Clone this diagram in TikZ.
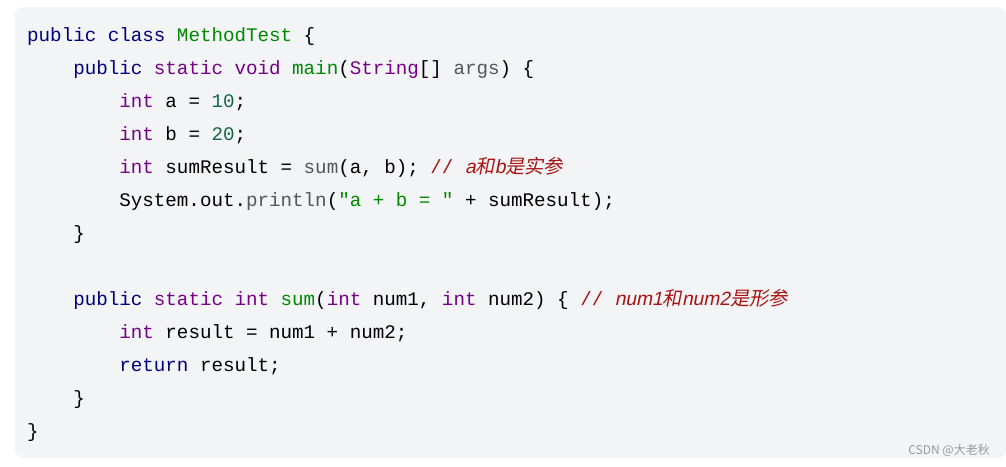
\documentclass[tikz,border=0pt]{standalone}
\usepackage{fontspec}
\setmonofont{Liberation Mono}
\newfontfamily\cjk[FakeSlant=0.2]{Noto Sans CJK SC}
\newfontfamily\cjkup{Noto Sans CJK SC}
\newfontfamily\cmtfont[FakeSlant=0.2]{Liberation Sans}
\definecolor{bg}{HTML}{F3F4F6}
\definecolor{kw}{HTML}{000080}
\definecolor{ty}{HTML}{770088}
\definecolor{fn}{HTML}{008800}
\definecolor{nu}{HTML}{116644}
\definecolor{st}{HTML}{008800}
\definecolor{cm}{HTML}{AA1111}
\definecolor{gy}{HTML}{555555}
\newcommand{\K}[1]{\textcolor{kw}{#1}}
\newcommand{\T}[1]{\textcolor{ty}{#1}}
\newcommand{\F}[1]{\textcolor{fn}{#1}}
\newcommand{\N}[1]{\textcolor{nu}{#1}}
\newcommand{\G}[1]{\textcolor{gy}{#1}}
\newcommand{\C}[1]{\textcolor{cm}{#1}}
\begin{document}
\begin{tikzpicture}[x=1pt,y=1pt,
  code/.style={anchor=base west,inner sep=0pt,font=\ttfamily\fontsize{19.2}{22}\selectfont,text=black}]
\useasboundingbox (0,0) rectangle (1006,-466);
\fill[bg,rounded corners=8pt] (15,-7) rectangle (1006,-458);
\node[code] (l1) at (27,-41) {\K{public} \K{class} \F{MethodTest} \{};
\node[code] (l2) at (27,-74) {\ \ \ \ \K{public} \T{static} \T{void} \F{main}(\T{String}[] \G{args}) \{};
\node[code] (l3) at (27,-107) {\ \ \ \ \ \ \ \ \T{int} a = \N{10};};
\node[code] (l4) at (27,-140) {\ \ \ \ \ \ \ \ \T{int} b = \N{20};};
\node[code] (l5) at (27,-173) {\ \ \ \ \ \ \ \ \T{int} sumResult = \G{sum}(a, b); \C{//\ {\cmtfont a}{\cjk 和}{\cmtfont b}{\cjk 是实参}}};
\node[code] (l6) at (27,-206) {\ \ \ \ \ \ \ \ System.out.\G{println}(\textcolor{st}{"a + b = "} + sumResult);};
\node[code] (l7) at (27,-239) {\ \ \ \ \}};
\node[code] (l9) at (27,-305) {\ \ \ \ \K{public} \T{static} \T{int} \F{sum}(\T{int} num1, \T{int} num2) \{ \C{//\ {\cmtfont num1}{\cjk 和}{\cmtfont num2}{\cjk 是形参}}};
\node[code] (l10) at (27,-338) {\ \ \ \ \ \ \ \ \T{int} result = num1 + num2;};
\node[code] (l11) at (27,-371) {\ \ \ \ \ \ \ \ \K{return} result;};
\node[code] (l12) at (27,-404) {\ \ \ \ \}};
\node[code] (l13) at (27,-437) {\}};
\node[anchor=base east,inner sep=0pt,text=gray!80,font=\cjkup\fontsize{12}{14}\selectfont] (wm) at (990,-454) {CSDN @大老秋};
\end{tikzpicture}
\end{document}
